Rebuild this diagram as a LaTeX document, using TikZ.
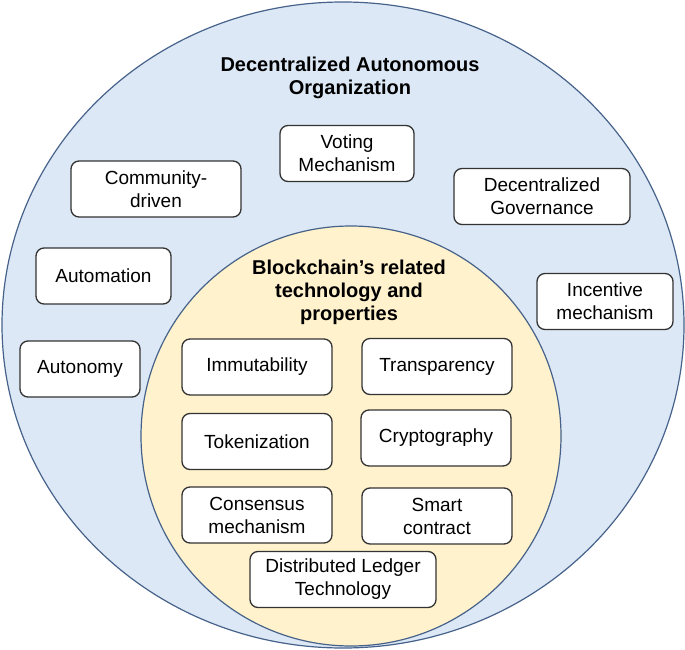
\documentclass[tikz,border=0pt]{standalone}
\usepackage{fontspec}
\setmainfont{Liberation Sans}
\usepackage{tikz}
\usetikzlibrary{positioning}
\definecolor{daoblue}{HTML}{DCE8F5}
\definecolor{bcyellow}{HTML}{FFF2CC}
\definecolor{rim}{HTML}{46628A}
\definecolor{boxline}{HTML}{333333}

\begin{document}
\begin{tikzpicture}[x=1pt,y=-1pt,
  prop/.style={draw=boxline,line width=1.3pt,fill=white,rounded corners=8pt,
    align=center,inner sep=0pt,minimum height=56pt,
    font=\fontsize{19}{23}\selectfont},
  head/.style={align=center,font=\fontsize{20}{23}\selectfont\bfseries}]
  \useasboundingbox (0,0) rectangle (685,650);
  % the two circles
  \draw[fill=daoblue,draw=rim,line width=1.2pt] (343,325) ellipse [x radius=341, y radius=323];
  \draw[fill=bcyellow,draw=rim,line width=1.2pt] (351,436) circle [radius=210];
  \node[head] (dao) at (350,78) {Decentralized Autonomous\\Organization};
  \node[head] (bc)  at (349,292) {Blockchain’s related\\technology and\\properties};
  % outer ring
  \node[prop,minimum width=134pt] (vote)   at (347,153.5) {Voting\\Mechanism};
  \node[prop,minimum width=170pt] (comm)   at (156,189)   {Community-\\driven};
  \node[prop,minimum width=176pt] (gov)    at (542,196.5) {Decentralized\\Governance};
  \node[prop,minimum width=135pt] (autom)  at (103.5,276) {Automation};
  \node[prop,minimum width=136pt] (incent) at (605,301.5) {Incentive\\mechanism};
  \node[prop,minimum width=120pt] (auton)  at (80,369)    {Autonomy};
  % inner circle
  \node[prop,minimum width=150pt] (immut)  at (257,367)   {Immutability};
  \node[prop,minimum width=150pt] (transp) at (437,366.5) {Transparency};
  \node[prop,minimum width=150pt] (token)  at (257,441.5) {Tokenization};
  \node[prop,minimum width=150pt] (crypto) at (436,438)   {Cryptography};
  \node[prop,minimum width=150pt] (cons)   at (257,515)   {Consensus\\mechanism};
  \node[prop,minimum width=150pt] (smart)  at (437,516)   {Smart\\contract};
  \node[prop,minimum width=186pt] (dlt)    at (343,579.5) {Distributed Ledger\\Technology};
\end{tikzpicture}
\end{document}
